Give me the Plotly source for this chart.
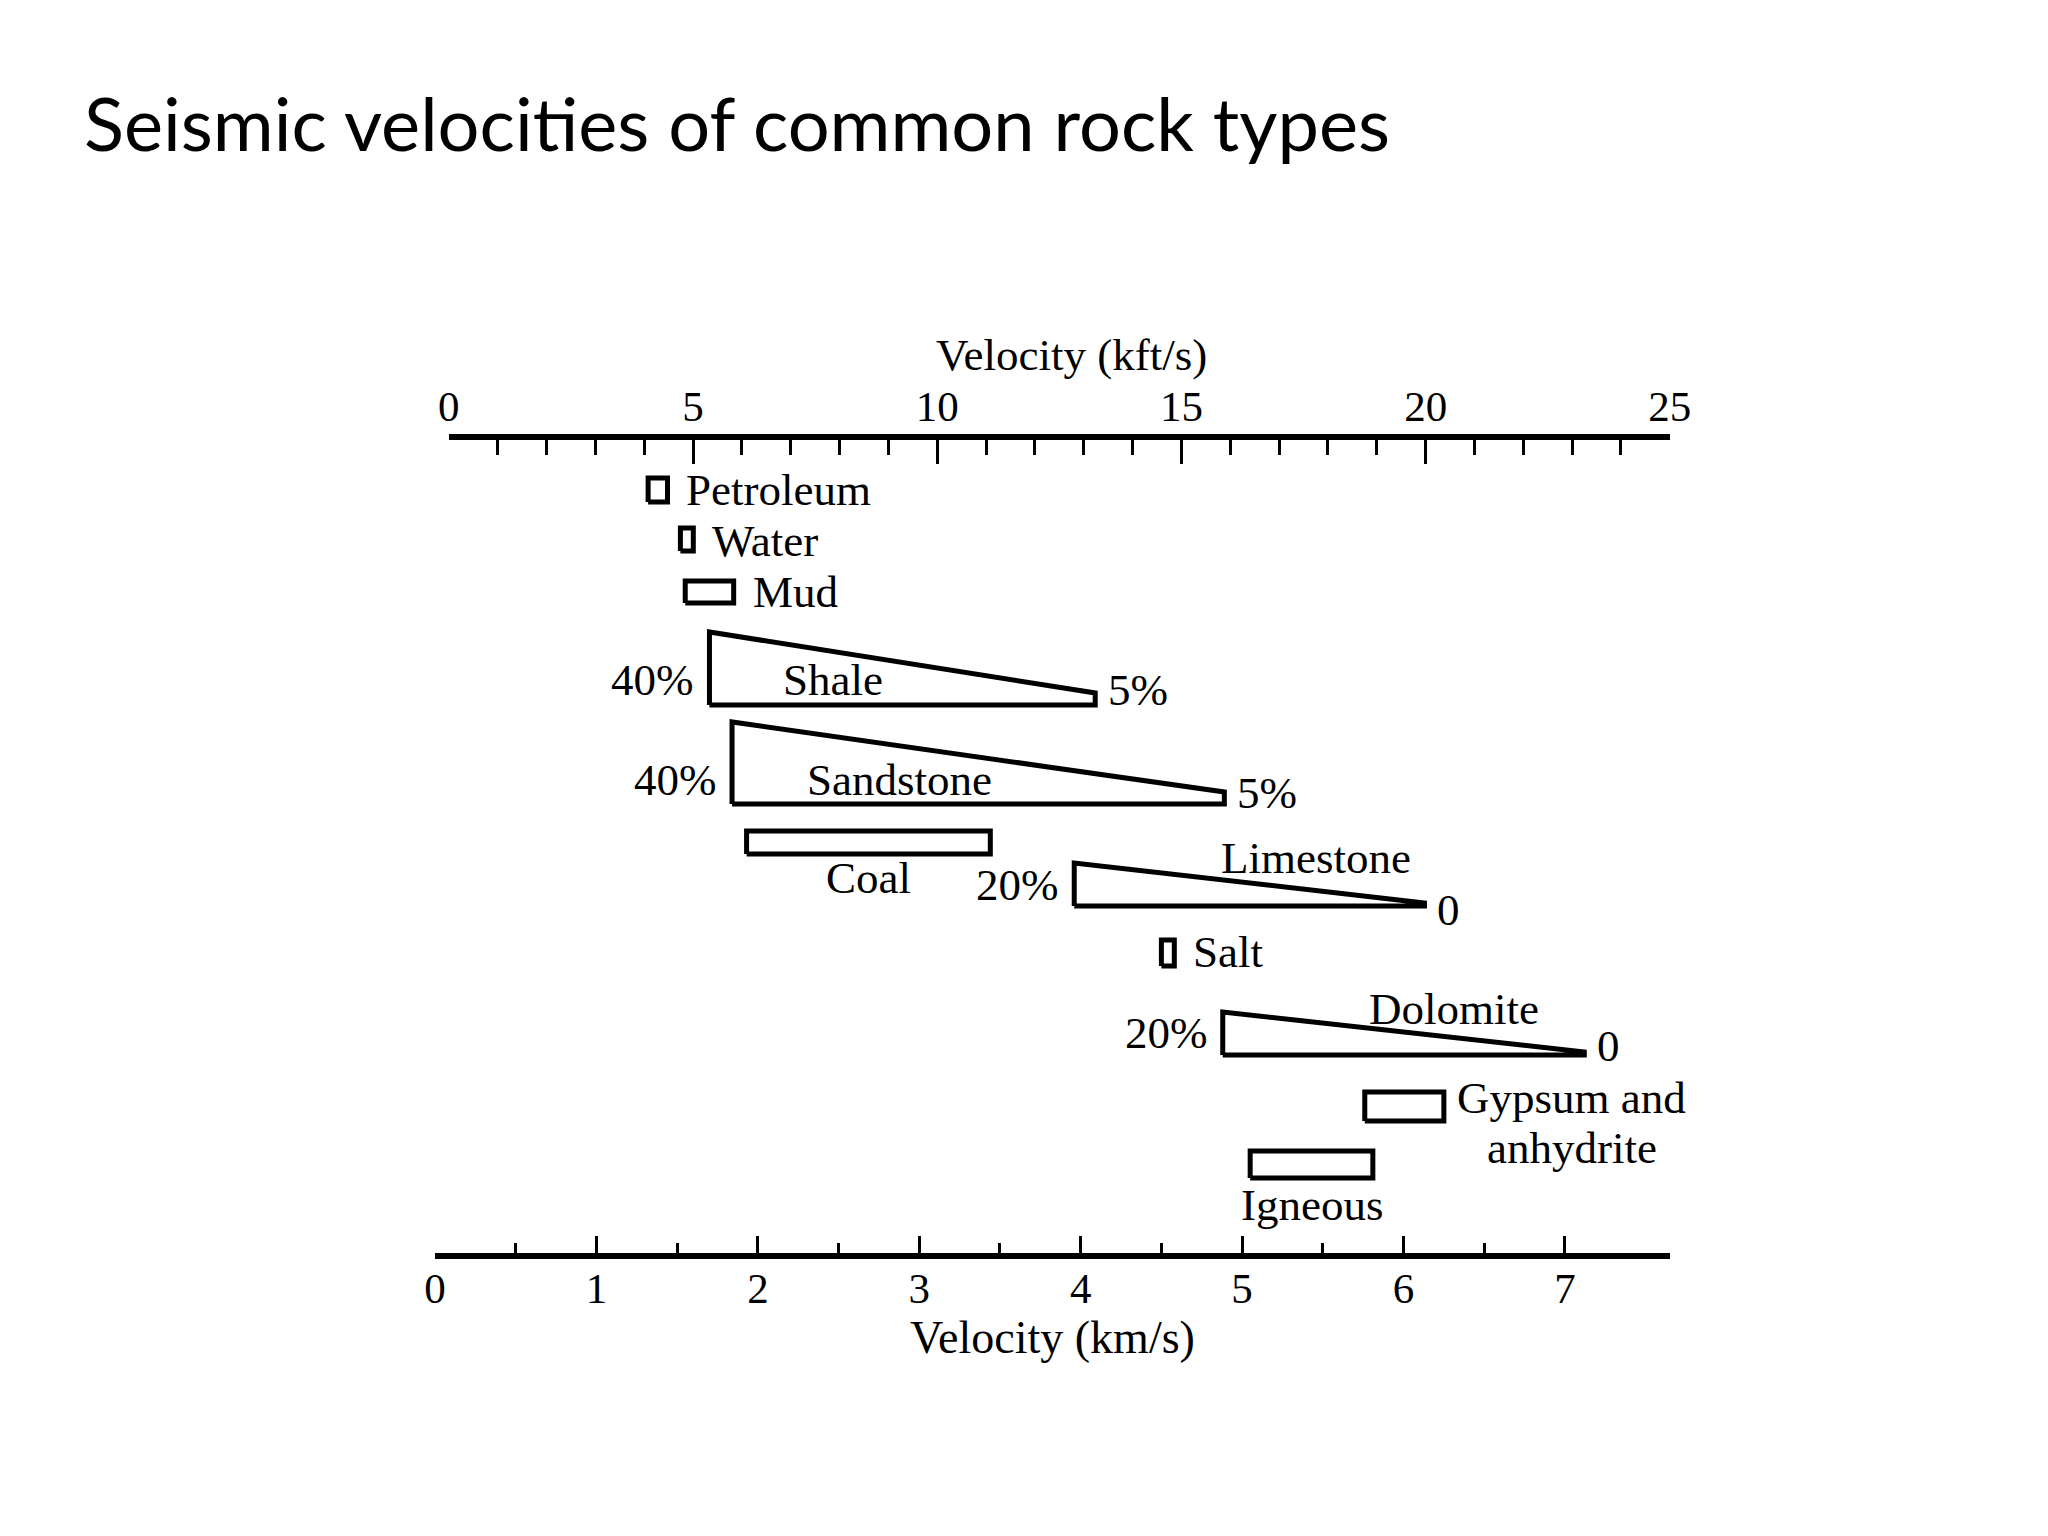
import plotly.graph_objects as go

# ---------------- data ----------------
rocks = ["Petroleum", "Water", "Mud", "Shale", "Sandstone", "Coal",
         "Limestone", "Salt", "Dolomite", "Gypsum and anhydrite", "Igneous"]
v_min_kms = [1.32, 1.52, 1.55, 1.70, 1.84, 1.93, 3.96, 4.50, 4.88, 5.76, 5.05]
v_max_kms = [1.44, 1.60, 1.85, 4.09, 4.89, 3.44, 6.13, 4.58, 7.12, 6.25, 5.81]
porosity_at_vmin = ["", "", "", "40%", "40%", "", "20%", "", "20%", "", ""]
porosity_at_vmax = ["", "", "", "5%", "5%", "", "0", "", "0", "", ""]

km_ticks = [0, 1, 2, 3, 4, 5, 6, 7]
km_minor = [0.5, 1.5, 2.5, 3.5, 4.5, 5.5, 6.5]
kft_ticks = [0, 5, 10, 15, 20, 25]
kft_minor = [v for v in range(1, 25) if v % 5]

title_text = "Seismic velocities of common rock types"
km_title = "Velocity (km/s)"
kft_title = "Velocity (kft/s)"

# ---------------- layout (styling / positions in image pixels) ----------------
W, H = 2048, 1536
Y_TOP, Y_BOT = 440, 1253          # top axis line / bottom axis line (px)
BOT_X0, BOT_X1 = 431, 1686        # bottom axis span (px)
TOP_X0 = 445                      # top axis start (px)

rows = {
    "Petroleum": dict(kind="box", top=478, bot=502, name="right", ny=490),
    "Water": dict(kind="box", top=528, bot=551, name="right", ny=541),
    "Mud": dict(kind="box", top=581, bot=603, name="right", ny=592),
    "Shale": dict(kind="wedge", top=632, topr=693, bot=705, name="inside", frac=0.32, ny=680, ly=680, ry=690),
    "Sandstone": dict(kind="wedge", top=722, topr=792, bot=804, name="inside", frac=0.34, ny=780, ly=780, ry=793),
    "Coal": dict(kind="box", top=831, bot=854, name="below", ny=878),
    "Limestone": dict(kind="wedge", top=863, topr=903, bot=906, name="above", frac=0.69, ny=858, ly=885, ry=910),
    "Salt": dict(kind="box", top=940, bot=966, name="right", ny=952),
    "Dolomite": dict(kind="wedge", top=1012, topr=1052, bot=1055, name="above", frac=0.64, ny=1009, ly=1033, ry=1046),
    "Gypsum and anhydrite": dict(kind="box", top=1092, bot=1121, name="split", ny=1098, ny2=1148),
    "Igneous": dict(kind="box", top=1151, bot=1178, name="below", ny=1205),
}

SERIF = "Liberation Serif"
LABEL_FONT = dict(family=SERIF, size=45, color="black")
TICK_FONT = dict(family=SERIF, size=43, color="black")
AXIS_TITLE_FONT = dict(family=SERIF, size=46, color="black")
TOP_TITLE_FONT = dict(family=SERIF, size=45, color="black")
LW = 5

fig = go.Figure()
annotations = []

for name, vmin, vmax, pl, pr in zip(rocks, v_min_kms, v_max_kms, porosity_at_vmin, porosity_at_vmax):
    g = rows[name]
    xs = [vmin, vmax, vmax, vmin, vmin]
    if g["kind"] == "box":
        ys = [g["bot"], g["bot"], g["top"], g["top"], g["bot"]]
    else:
        ys = [g["bot"], g["bot"], g["topr"], g["top"], g["bot"]]
    fig.add_trace(go.Scatter(
        x=xs, y=ys, mode="lines", fill="toself", fillcolor="white",
        line=dict(color="black", width=LW), hoverinfo="skip",
        showlegend=False, cliponaxis=False, xaxis="x", yaxis="y"))

    place = g["name"]
    if place == "right":
        annotations.append(dict(x=vmax, y=g["ny"], text=name, xanchor="left", yanchor="middle",
                                xshift=18, showarrow=False, font=LABEL_FONT))
    elif place == "split":
        first, second = name.rsplit(" ", 1)
        annotations.append(dict(x=vmax, y=g["ny"], text=first, xanchor="left", yanchor="middle",
                                xshift=12, showarrow=False, font=LABEL_FONT))
        annotations.append(dict(x=vmax, y=g["ny2"], text=second, xanchor="left", yanchor="middle",
                                xshift=42, showarrow=False, font=LABEL_FONT))
    elif place == "below":
        annotations.append(dict(x=(vmin + vmax) / 2, y=g["ny"], text=name, xanchor="center",
                                yanchor="middle", showarrow=False, font=LABEL_FONT))
    else:
        annotations.append(dict(x=vmin + g["frac"] * (vmax - vmin), y=g["ny"], text=name,
                                xanchor="center", yanchor="middle", showarrow=False, font=LABEL_FONT))
    if pl:
        annotations.append(dict(x=vmin, y=g["ly"], text=pl, xanchor="right", yanchor="middle",
                                xshift=-14, showarrow=False, font=LABEL_FONT))
    if pr:
        annotations.append(dict(x=vmax, y=g["ry"], text=pr, xanchor="left", yanchor="middle",
                                xshift=12, showarrow=False, font=LABEL_FONT))

for a in annotations:
    a.update(xref="x", yref="y", borderpad=0)

# invisible trace to carry the top (kft/s) axis
fig.add_trace(go.Scatter(x=[None], y=[None], xaxis="x2", yaxis="y2",
                         showlegend=False, hoverinfo="skip"))

annotations.append(dict(xref="paper", yref="paper", x=72 / W, y=1 - 122 / H,
                        xanchor="left", yanchor="middle", text=title_text, showarrow=False,
                        font=dict(family="Lato", size=74, color="black")))
# top axis title
annotations.append(dict(xref="x2 domain", yref="paper", x=0.51, y=1 - 355 / H,
                        xanchor="center", yanchor="middle", text=kft_title, showarrow=False,
                        font=TOP_TITLE_FONT))

dx = [BOT_X0 / W, BOT_X1 / W]
dx2 = [TOP_X0 / W, BOT_X1 / W]
dy = [1 - Y_BOT / H, 1 - Y_TOP / H]

fig.update_layout(
    width=W, height=H, autosize=False,
    margin=dict(l=0, r=0, t=0, b=0),
    paper_bgcolor="white", plot_bgcolor="rgba(0,0,0,0)",
    showlegend=False,
    annotations=annotations,
    xaxis=dict(domain=dx, range=[0, 7.65], anchor="y", side="bottom",
               showline=True, linecolor="black", linewidth=6,
               ticks="inside", ticklen=17, tickwidth=3, tickcolor="black",
               tickvals=km_ticks, ticktext=[str(v) for v in km_ticks],
               tickfont=TICK_FONT, ticklabelstandoff=-8,
               minor=dict(tickvals=km_minor, ticks="inside", ticklen=10, tickwidth=2.5, tickcolor="black"),
               showgrid=False, zeroline=False,
               title=dict(text=km_title, font=AXIS_TITLE_FONT, standoff=12)),
    yaxis=dict(domain=dy, range=[Y_BOT, Y_TOP], anchor="x", visible=False,
               showgrid=False, zeroline=False),
    xaxis2=dict(domain=dx2, range=[0, 25], anchor="y2", side="top",
                showline=True, linecolor="black", linewidth=6,
                ticks="inside", ticklen=24, tickwidth=3, tickcolor="black",
                tickvals=kft_ticks, ticktext=[str(v) for v in kft_ticks],
                tickfont=TICK_FONT, ticklabelstandoff=-4,
                minor=dict(tickvals=kft_minor, ticks="inside", ticklen=15, tickwidth=2.5, tickcolor="black"),
                showgrid=False, zeroline=False),
    yaxis2=dict(domain=dy, range=[0, 1], anchor="x2", visible=False,
                showgrid=False, zeroline=False),
)

fig.write_html("out.html", config={"displayModeBar": False},
               post_script="document.body.style.margin='0';")
